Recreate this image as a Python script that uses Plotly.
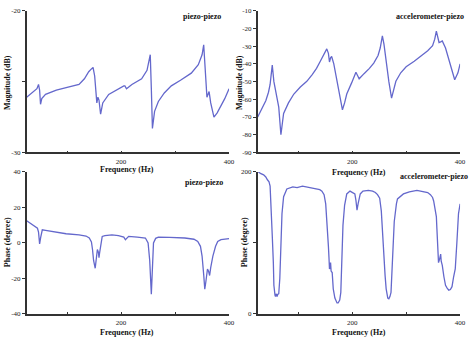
import plotly.graph_objects as go

# Frequency response data (frequency in Hz)
mag_pp_f = [25, 35, 44, 47, 49, 50.7, 53, 60, 80, 100, 122, 132, 140, 145, 148, 151, 155, 157, 159, 162, 166, 177, 190, 205, 207, 210, 220, 238, 248, 252, 254, 256, 258, 262, 269, 280, 293, 310, 330, 343, 350, 353, 356, 359, 363, 366, 372, 378, 392, 400]
mag_pp_v = [-26.1, -25.8, -25.5, -25.2, -25.6, -26.6, -26.2, -25.9, -25.6, -25.4, -25.2, -24.8, -24.3, -24.1, -24.0, -24.6, -26.5, -26.1, -26.3, -27.3, -26.5, -25.9, -25.6, -25.3, -25.3, -25.5, -25.2, -24.8, -24.2, -23.6, -23.1, -25.5, -28.3, -27.1, -26.4, -25.8, -25.3, -24.9, -24.4, -23.8, -23.1, -22.4, -24.5, -26.1, -25.7, -26.5, -27.5, -27.2, -26.2, -25.5]

mag_ap_f = [25, 33, 40, 45, 48, 50, 52, 55, 58, 64, 68, 73, 82, 92, 104, 116, 126, 134, 141, 147, 150, 153, 156, 158, 160, 162, 166, 171, 177, 182, 186, 190, 199, 204, 207, 210, 213, 222, 232, 240, 248, 252, 256, 259, 262, 268, 273, 277, 281, 290, 300, 315, 330, 340, 349, 353, 356, 359, 361, 364, 367, 373, 379, 385, 390, 396, 400]
mag_ap_v = [-70, -65, -60.8, -56, -51.6, -46, -40.7, -50, -55.3, -64.4, -80, -68, -62, -57, -53, -49.8, -46, -42.5, -38.5, -35.2, -33, -31.5, -34, -38.9, -36.5, -35.8, -40, -48, -58, -65.9, -62, -57, -50.7, -47, -44.7, -46.5, -48.4, -45.5, -42.5, -39.5, -35.2, -31, -24.2, -29, -37, -50, -59.3, -55, -49.8, -45, -41.6, -38.5, -35.2, -32.5, -29.7, -26, -21.5, -24.5, -27.9, -27.5, -27, -31, -37, -44, -48.9, -45, -40]

ph_pp_f = [25, 32, 40, 45, 47, 49, 51, 54, 60, 73, 98, 122, 135, 141, 145, 147, 149, 152, 154, 156, 158, 159, 160, 162, 165, 170, 183, 195, 205, 208, 211, 214, 230, 245, 250, 253, 256, 258, 260, 264, 269, 290, 318, 335, 342, 347, 350, 353, 355, 357, 360, 362, 364, 366, 370, 375, 379, 385, 391, 400]
ph_pp_v = [12.4, 11, 9.5, 8.2, 6, -0.6, 3, 7.3, 7, 6.3, 5.1, 4.5, 3.8, 2.7, 0.5, -3.8, -10, -14.4, -10, -3.8, -5.5, -8.4, -6, -2, 3.6, 4, 4.5, 4, 3.2, 1.7, 2.8, 3.6, 3.2, 2.7, -0.1, -10, -29, -15, -0.1, 2.5, 3.2, 3.1, 2.7, 2.0, 0.8, -2, -7.5, -18, -26.2, -22, -14.8, -16, -18.5, -14, -7.5, -2, 0.8, 1.8, 2.1, 2.3]

ph_ap_f = [25, 30, 36, 40, 43, 46, 48, 49, 50, 52, 54, 55, 57, 58, 59, 61, 62, 64, 66, 67, 70, 73, 79, 90, 98, 108, 116, 125, 134, 140, 144, 148, 151, 153, 155, 156, 157, 158, 159, 160, 161, 163, 165, 168, 170, 172, 174, 177, 179, 181, 183, 186, 190, 196, 203, 205, 207, 209, 211, 215, 220, 230, 238, 243, 247, 251, 254, 256, 258, 261, 263, 266, 268, 270, 272, 275, 278, 282, 284, 295, 306, 320, 330, 340, 345, 349, 351, 354, 356, 357, 358, 359, 360, 362, 364, 365, 367, 370, 373, 376, 379, 382, 385, 388, 391, 394, 397, 400]
ph_ap_v = [201, 198, 196, 193, 189, 186, 180, 165, 155, 110, 72, 40, 26, 24, 28, 24, 27, 28, 50, 72, 141, 165, 176, 179, 178, 180, 179, 177, 176, 175, 173, 168, 155, 135, 110, 95, 80, 63, 66, 72, 60, 58, 35, 22, 17, 15, 15, 19, 30, 72, 125, 153, 169, 173, 170, 169, 160, 146, 155, 169, 173, 174, 173, 171, 168, 163, 145, 118, 80, 54, 35, 22, 21, 24, 30, 72, 130, 155, 162, 169, 172, 174, 173, 171, 168, 164, 159, 148, 137, 120, 100, 80, 72, 77, 84, 74, 68, 52, 40, 36, 33, 34, 38, 52, 63, 100, 141, 155, 162]

# Axis settings per panel
mag_pp_range = [-30, -20]
mag_ap_range = [-90, -10]
ph_pp_range = [-40, 40]
ph_ap_range = [0, 200]
freq_range = [25, 400]

LINE_COLOR = "#6468cc"
AXIS_COLOR = "#333333"
SERIF = "Liberation Serif"

fig = go.Figure()

panels = [
    ("x", "y", mag_pp_f, mag_pp_v),
    ("x2", "y2", mag_ap_f, mag_ap_v),
    ("x3", "y3", ph_pp_f, ph_pp_v),
    ("x4", "y4", ph_ap_f, ph_ap_v),
]
for xa, ya, f, v in panels:
    fig.add_trace(go.Scatter(x=f, y=v, xaxis=xa, yaxis=ya, mode="lines",
                             line=dict(color=LINE_COLOR, width=1.3),
                             showlegend=False, hoverinfo="skip"))

left_dom = [27 / 474, 232 / 474]
right_dom = [261 / 474, 466 / 474]
top_dom = [1 - 152 / 342, 1 - 7 / 342]
bot_dom = [1 - 317 / 342, 1 - 172 / 342]

tick_font = dict(family=SERIF, size=7, color="#222")


def xaxis(dom, anchor):
    return dict(domain=dom, anchor=anchor, range=freq_range, showline=True,
                linecolor=AXIS_COLOR, linewidth=1.5, showgrid=False, zeroline=False,
                tickmode="array", tickvals=[100, 200, 300, 400],
                ticktext=["", "200", "", "400"], ticks="inside", ticklen=2,
                tickcolor=AXIS_COLOR, tickfont=tick_font, ticklabelstandoff=1)


def yaxis(dom, anchor, rng, vals, text):
    return dict(domain=dom, anchor=anchor, range=rng, showline=True,
                linecolor=AXIS_COLOR, linewidth=1.5, showgrid=False, zeroline=False,
                tickmode="array", tickvals=vals, ticktext=text, ticks="outside",
                ticklen=3, tickcolor=AXIS_COLOR, tickfont=tick_font)


fig.update_layout(
    width=474, height=342,
    margin=dict(l=0, r=0, t=0, b=0),
    paper_bgcolor="white", plot_bgcolor="white",
    xaxis=xaxis(left_dom, "y"),
    yaxis=yaxis(top_dom, "x", mag_pp_range, [-30, -25, -20], ["-30", "", "-20"]),
    xaxis2=xaxis(right_dom, "y2"),
    yaxis2=yaxis(top_dom, "x2", mag_ap_range, list(range(-90, 0, 10)),
                 [str(t) for t in range(-90, 0, 10)]),
    xaxis3=xaxis(left_dom, "y3"),
    yaxis3=yaxis(bot_dom, "x3", ph_pp_range, [-40, -20, 0, 20, 40],
                 ["-40", "-20", "0", "20", "40"]),
    xaxis4=xaxis(right_dom, "y4"),
    yaxis4=yaxis(bot_dom, "x4", ph_ap_range, [0, 100, 200], ["0", "", "200"]),
)

label_font = dict(family=SERIF, size=8, color="#111")


def note(text, x, y, angle=0):
    fig.add_annotation(text="<b>%s</b>" % text, x=x / 474, y=1 - y / 342,
                       xref="paper", yref="paper", showarrow=False,
                       textangle=angle, font=label_font,
                       xanchor="center", yanchor="middle")


note("piezo-piezo", 205, 13)
note("accelerometer-piezo", 436, 13)
note("piezo-piezo", 207, 183)
note("accelerometer-piezo", 440, 177)
note("Frequency (Hz)", 129, 169)
note("Frequency (Hz)", 364, 173)
note("Frequency (Hz)", 129, 336)
note("Frequency (Hz)", 364, 336)
note("Magnitude (dB)", 7, 80, -90)
note("Magnitude (dB)", 242, 80, -90)
note("Phase (degree)", 7, 244, -90)
note("Phase (degree)", 247, 244, -90)

fig.write_html("out.html")
